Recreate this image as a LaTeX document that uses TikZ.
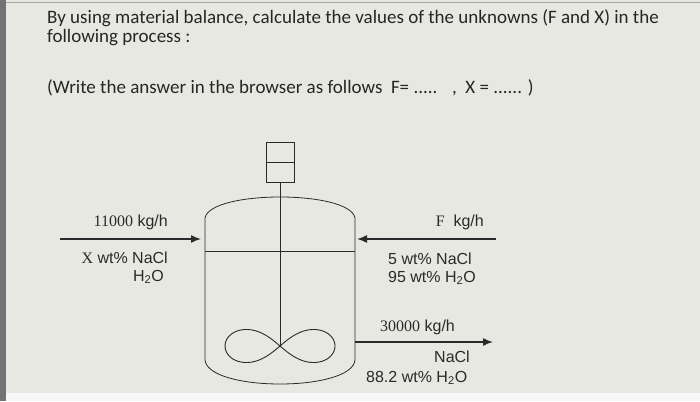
\documentclass[tikz,border=0pt]{standalone}
\usepackage{fontspec}
\setmainfont{Liberation Sans}
\newfontfamily\titlefont{Carlito}
\newfontfamily\serifnum{Liberation Serif}
\usetikzlibrary{arrows.meta}
\definecolor{bg}{HTML}{E8E8E2}
\definecolor{ink}{HTML}{2A2A2A}
\begin{document}
\begin{tikzpicture}[x=1pt,y=-1pt,
  line/.style={draw=ink,line width=0.8pt},
  stream/.style={draw=ink,line width=1.5pt,-{Latex[length=10pt,width=8pt]}},
  lbl/.style={inner sep=0pt,text=ink,font=\fontsize{16}{18}\selectfont},
  lw/.style={lbl,anchor=base west},
  le/.style={lbl,anchor=base east},
  ttl/.style={inner sep=0pt,anchor=base west,text=black!85,font=\titlefont\fontsize{19}{21}\selectfont}]
\useasboundingbox (0,0) rectangle (700,401);
\fill[bg] (0,0) rectangle (700,401);
\fill[black!55] (0,0) rectangle (6,401);
\fill[white!94!gray] (6,393) rectangle (700,401);
\draw[black!35,line width=1pt] (6,3) -- (700,3);
% title
\node[ttl] (t1) at (47,24) {By using material balance, calculate the values of the unknowns (F and X) in the};
\node[ttl] (t2) at (47,43) {following process :};
\node[ttl] (t3) at (47,94) {(Write the answer in the browser as follows \ F= ..... \, , \ X = ...... )};
% motor
\node[line,minimum width=28,minimum height=40,inner sep=0pt] (motor) at (280,162) {};
\draw[line] (motor.west) -- (motor.east);
% vessel
\draw[line] (205,218) .. controls (210,190) and (350,190) .. (355,218)
  -- (355,360) .. controls (352,392) and (208,392) .. (205,360) -- cycle;
\coordinate (lq1) at (205,251); \coordinate (lq2) at (355,251);
\draw[line] (lq1) -- (lq2);
\coordinate (hub) at (280,346);
\draw[line,line width=0.6pt] (motor.south) -- (hub);
\draw[line,line width=0.9pt,shift={(280,346)}] plot[domain=0:360,samples=120,smooth]
  ({55*cos(\x)/(1+sin(\x)^2)},{0.85*55*sin(\x)*cos(\x)/(1+sin(\x)^2)});
% streams
\coordinate (inL) at (60,239); \coordinate (vL) at (201,239);
\coordinate (inR) at (496,239); \coordinate (vR) at (357,239);
\coordinate (vO) at (355,342); \coordinate (outO) at (493,342);
\draw[stream] (inL) -- (vL);
\draw[stream] (inR) -- (vR);
\draw[stream] (vO) -- (outO);
% labels
\node[le] (a1) at (168,226) {{\serifnum 11000} kg/h};
\node[le] (a2) at (168,263) {{\serifnum X} wt\% NaCl};
\node[le] (a3) at (164,281) {H\textsubscript{2}O};
\node[le] (b1) at (484,226) {{\serifnum F} \ kg/h};
\node[lw] (b2) at (388,264) {5 wt\% NaCl};
\node[lw] (b3) at (388,282) {95 wt\% H\textsubscript{2}O};
\node[lw] (c1) at (380,331) {{\serifnum 30000} kg/h};
\node[le] (c2) at (470,362) {NaCl};
\node[lw] (c3) at (366,382) {88.2 wt\% H\textsubscript{2}O};
\end{tikzpicture}
\end{document}
